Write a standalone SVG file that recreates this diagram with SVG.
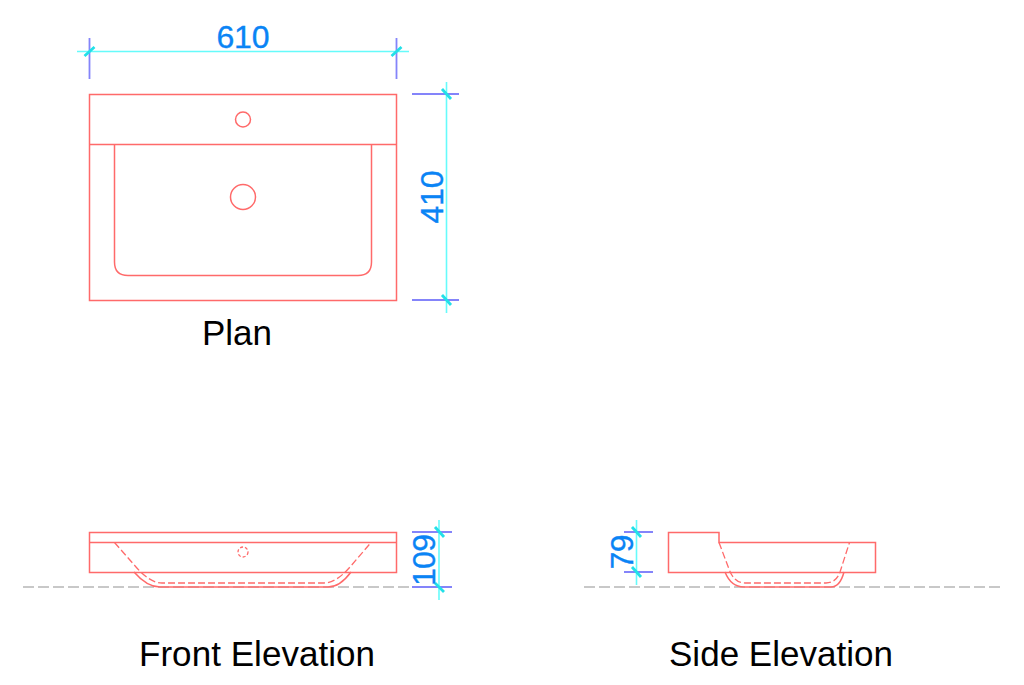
<svg xmlns="http://www.w3.org/2000/svg" width="1024" height="685" viewBox="0 0 1024 685">
<style>
.r{fill:none;stroke:#ff6a6a;stroke-width:1.5}
.d{fill:none;stroke:#ff6a6a;stroke-width:1.3;stroke-dasharray:7 3}
.c{fill:none;stroke:#66fbfb;stroke-width:1.6}
.t{fill:none;stroke:#22e0e8;stroke-width:2.8}
.b{fill:none;stroke:#8484fa;stroke-width:1.8}
.g{fill:none;stroke:#c8c8c8;stroke-width:1.8;stroke-dasharray:11 4}
.dim{font-family:"Liberation Sans",Arial,sans-serif;font-size:32px;fill:#0a84f5;stroke:#0a84f5;stroke-width:.35}
.lab{font-family:"Liberation Sans",Arial,sans-serif;font-size:35px;fill:#000}
</style>
<rect width="1024" height="685" fill="#fff"/>
<g id="ground-lines">
<path class="g" d="M23 587H412"/>
<path class="g" d="M584 587H1000"/>
</g>
<g id="plan">
<rect class="r" x="89.500" y="94.500" width="307" height="206"/>
<path class="r" d="M89.500 144.500H396.500M114.500 144.500V262Q114.500 275.500 128 275.500H358Q371.500 275.500 371.500 262V144.500"/>
<circle class="r" cx="243" cy="119.500" r="7.500"/>
<circle class="r" cx="243" cy="197" r="12.500"/>
</g>
<g id="front-elevation">
<rect class="r" x="89.500" y="532.500" width="307" height="40"/>
<path class="r" d="M89.500 542.500H396.500"/>
<path class="d" d="M114.500 542.500L136 567Q150 583 162 583H324Q336 583 350 567L371 542.500"/>
<path class="r" d="M134 572Q147 587 160 587H328Q340 587 351 572"/>
<circle class="d" cx="243" cy="552" r="5" style="stroke-dasharray:3 2"/>
</g>
<g id="side-elevation">
<path class="r" d="M668.500 532.500H719V542.500H875.500V572.500H668.500Z"/>
<path class="d" d="M719 542.500L729 569Q734 583 745 583H826Q836 583 840 572L849.500 542.500"/>
<path class="r" d="M725 572Q731 587 744 587H831Q840 587 844 572"/>
</g>
<g id="connectors">
<path class="c" d="M77 51.500H409"/>
<path class="b" d="M89.500 38V79M396.500 38V79"/>
<path class="t" d="M84.500 56L94.500 47M391.500 56L401.500 47"/>
<path class="c" d="M446.500 82V313"/>
<path class="b" d="M412 94H459M412 300H459"/>
<path class="t" d="M442 89L451 99M442 295L451 305"/>
<path class="c" d="M439 520V600"/>
<path class="b" d="M412 532H452M412 587H452"/>
<path class="t" d="M435 527L444 537M435 583L444 592"/>
<path class="c" d="M636.500 520V585"/>
<path class="b" d="M624 532H653M624 572H653"/>
<path class="t" d="M632 527L641 537M632 567L641 577"/>
</g>
<g id="dimension-labels">
<text class="dim" x="243" y="48" text-anchor="middle" textLength="53">610</text>
<text class="dim" transform="translate(442.500 197) rotate(-90)" text-anchor="middle" textLength="53">410</text>
<text class="dim" transform="translate(435 560) rotate(-90)" text-anchor="middle" textLength="52">109</text>
<text class="dim" transform="translate(633 552) rotate(-90)" text-anchor="middle" textLength="35">79</text>
</g>
<g id="titles">
<text class="lab" x="237" y="345" text-anchor="middle" textLength="70">Plan</text>
<text class="lab" x="257" y="666" text-anchor="middle" textLength="236">Front Elevation</text>
<text class="lab" x="781" y="666" text-anchor="middle" textLength="224">Side Elevation</text>
</g>
</svg>
